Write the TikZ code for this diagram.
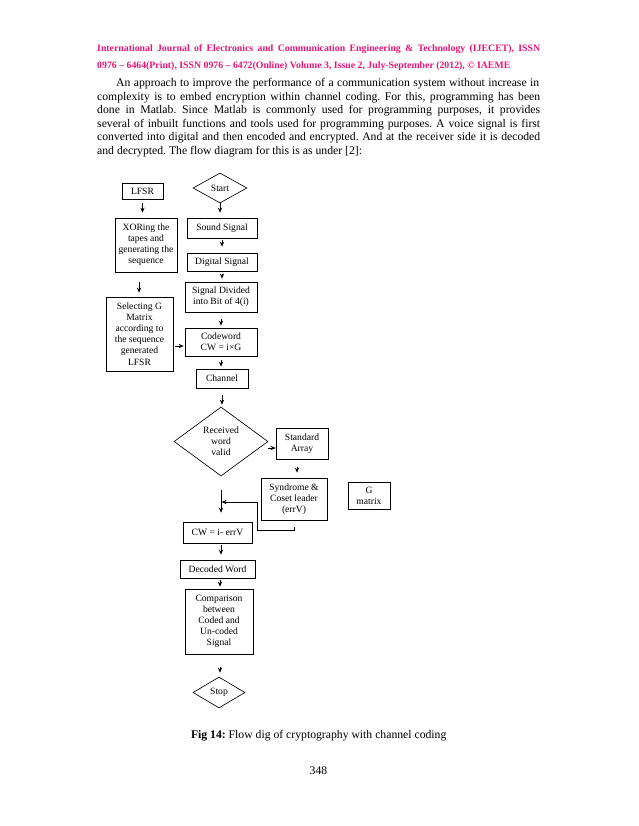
\documentclass[tikz,border=0pt]{standalone}
\usepackage{fontspec}
\setmainfont{Liberation Serif}
\usepackage{tikz}
\usepackage{xcolor}
\usetikzlibrary{arrows.meta,shapes}
\definecolor{headpink}{RGB}{228,22,120}
\frenchspacing

\begin{document}
\begin{tikzpicture}[x=1pt,y=-1pt,
 box/.style={draw,line width=0.65pt,inner sep=0pt,align=center,font=\fontsize{9.6}{11.1}\selectfont},
 dia/.style={box,diamond,aspect=1.8},
 txtline/.style={anchor=base west,inner sep=0pt,font=\fontsize{11.7}{13.4}\selectfont},
 arr/.style={-{Stealth[length=5pt,width=4.2pt]},line width=0.65pt}]
\useasboundingbox (0,0) rectangle (638,826);
% page text
\node[txtline,font=\fontsize{9.8}{12}\selectfont\bfseries,text=headpink] (hd1) at (97,51.6)
 {\makebox[443pt][s]{International Journal of Electronics and Communication Engineering \& Technology (IJECET), ISSN}};
\node[txtline,font=\fontsize{9.8}{12}\selectfont\bfseries,text=headpink] (hd2) at (97,68.3)
 {0976 – 6464(Print), ISSN 0976 – 6472(Online) Volume 3, Issue 2, July-September (2012), © IAEME};
\node[txtline] (p1) at (116,87) {\makebox[423pt][s]{An approach to improve the performance of a communication system without increase in}};
\node[txtline] (p2) at (97,100.5) {\makebox[443pt][s]{complexity is to embed encryption within channel coding. For this, programming has been}};
\node[txtline] (p3) at (97,114) {\makebox[443pt][s]{done in Matlab. Since Matlab is commonly used for programming purposes, it provides}};
\node[txtline] (p4) at (97,127.5) {\makebox[443pt][s]{several of inbuilt functions and tools used for programming purposes. A voice signal is first}};
\node[txtline] (p5) at (97,141) {\makebox[443pt][s]{converted into digital and then encoded and encrypted. And at the receiver side it is decoded}};
\node[txtline] (p6) at (97,154.5) {and decrypted. The flow diagram for this is as under [2]:};
% flow diagram
\node[box,minimum width=41pt,minimum height=16pt] (lfsr) at (142.5,191) {LFSR};
\node[dia,minimum width=54pt,minimum height=30pt] (start) at (220,188) {Start};
\node[box,minimum width=62pt,minimum height=54pt] (xorseq) at (146,245) {XORing the\\tapes and\\generating the\\sequence};
\node[box,minimum width=70pt,minimum height=20pt] (sound) at (222,228) {Sound Signal};
\node[box,minimum width=70pt,minimum height=18pt] (digital) at (222,262) {Digital Signal};
\node[box,minimum width=72pt,minimum height=30pt] (divided) at (221,297) {Signal Divided\\into Bit of 4(i)};
\node[box,minimum width=67pt,minimum height=74pt] (selectg) at (139.5,334) {Selecting G\\Matrix\\according to\\the sequence\\generated\\LFSR};
\node[box,minimum width=72pt,minimum height=28pt] (codeword) at (221,342) {Codeword\\CW = i×G};
\node[box,minimum width=52pt,minimum height=19pt] (channel) at (222,378.5) {Channel};
\node[dia,minimum width=94pt,minimum height=69pt] (received) at (221,441.5) {Received\\word\\valid};
\node[box,minimum width=52pt,minimum height=31pt] (stdarray) at (302,443.5) {Standard\\Array};
\node[box,minimum width=66pt,minimum height=42pt] (syndrome) at (294,499) {Syndrome \&\\Coset leader\\(errV)};
\node[box,minimum width=42pt,minimum height=27pt] (gmatrix) at (369,495.5) {G\\matrix};
\node[box,minimum width=69pt,minimum height=21pt] (cwerr) at (217.5,532.5) {CW = i- errV};
\node[box,minimum width=75pt,minimum height=18pt] (decoded) at (217.5,569) {Decoded Word};
\node[box,minimum width=68pt,minimum height=65pt] (compare) at (219,621.5) {Comparison\\between\\Coded and\\Un-coded\\Signal};
\node[dia,minimum width=52pt,minimum height=31pt] (stop) at (219,692.5) {Stop};
\coordinate (fbend) at (257,502);
\coordinate (fbjoin) at (221.6,502);
\draw[arr,shorten <=4pt,shorten >=5pt] (lfsr.south) -- (lfsr.south |- xorseq.north);
\draw[arr,shorten >=5pt] (start.south) -- (start.south |- sound.north);
\draw[arr,shorten <=2pt,shorten >=6pt] (sound.south) -- (digital.north);
\draw[arr,shorten <=3pt,shorten >=3pt] (digital.south) -- (digital.south |- divided.north);
\draw[arr,shorten <=10pt,shorten >=4pt] ([xshift=-7pt]xorseq.south) -- ([xshift=-7pt]xorseq.south |- selectg.north);
\draw[arr,shorten <=7pt,shorten >=2pt] (divided.south) -- (codeword.north);
\draw[arr,shorten <=2pt,shorten >=1pt] ([yshift=-12pt]selectg.east) -- ([yshift=-12pt]selectg.east -| codeword.west);
\draw[arr,shorten <=4pt,shorten >=2pt] (codeword.south) -- (codeword.south |- channel.north);
\draw[arr,shorten <=7pt,shorten >=2pt] (channel.south) -- (channel.south |- received.north);
\draw[arr] ([yshift=-6.5pt]received.east) -- ([yshift=-6.5pt]received.east -| stdarray.west);
\draw[arr,shorten <=8pt,shorten >=5pt] ([xshift=-5pt]stdarray.south) -- ([xshift=-5pt]stdarray.south |- syndrome.north);
\draw[arr,shorten <=14pt,shorten >=9pt] (received.south) -- (received.south |- cwerr.north);
\draw[arr] ([yshift=-7pt]syndrome.south) -- ++(0,3) -| (fbend) -- (fbjoin);
\draw[arr,shorten <=2pt,shorten >=5pt] ([xshift=3.5pt]cwerr.south) -- ([xshift=3.5pt]cwerr.south |- decoded.north);
\draw[arr,shorten <=2pt,shorten >=2pt] ([xshift=2.5pt]decoded.south) -- ([xshift=2.5pt]decoded.south |- compare.north);
\draw[arr,shorten <=13pt,shorten >=4pt] ([xshift=1pt]compare.south) -- ([xshift=1pt]compare.south |- stop.north);
% caption
\node[anchor=base,inner sep=0pt,font=\fontsize{11.7}{14}\selectfont] (caption) at (318.7,738.5)
 {\textbf{Fig 14:} Flow dig of cryptography with channel coding};
\node[anchor=base,inner sep=0pt,font=\fontsize{11.7}{14}\selectfont] (pagenum) at (318.5,774) {348};
\end{tikzpicture}
\end{document}
